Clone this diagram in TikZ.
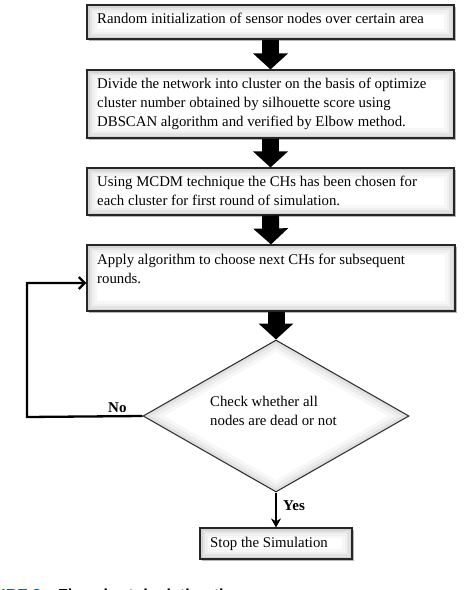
\documentclass[tikz,border=0pt]{standalone}
\usepackage{fontspec}
\setmainfont{Liberation Serif}
\newfontfamily\capfont{Liberation Sans}
\usetikzlibrary{arrows.meta,shapes.geometric,shadows}
\definecolor{capblue}{RGB}{0,105,165}
\newcommand{\bevelrect}[2]{%
  \fill[#2] ([shift={(#1,#1)}]path picture bounding box.south west) rectangle ([shift={(-#1,-#1)}]path picture bounding box.north east);}
\newcommand{\beveldiam}[2]{%
  \fill[#2] ([shift={(0pt,76pt-#1)}]path picture bounding box.center) -- ([shift={(133pt-1.75*#1,0pt)}]path picture bounding box.center) -- ([shift={(0pt,-76pt+#1)}]path picture bounding box.center) -- ([shift={(-133pt+1.75*#1,0pt)}]path picture bounding box.center) -- cycle;}
\begin{document}
\begin{tikzpicture}[x=1pt,y=-1pt,
  procbox/.style={draw=black!85, line width=1.1pt, fill=white, inner sep=0pt,
    drop shadow={shadow xshift=1.6pt, shadow yshift=-1.6pt, fill=black!40, opacity=0.7},
    path picture={\bevelrect{0pt}{black!17}\bevelrect{2.5pt}{black!11}\bevelrect{5pt}{black!6}\bevelrect{7.5pt}{black!3}\bevelrect{10pt}{white}}},
  decbox/.style={diamond, draw=black!85, line width=1pt, fill=white, inner sep=0pt, aspect=1.75,
    path picture={\beveldiam{0pt}{black!12}\beveldiam{4pt}{black!7}\beveldiam{8pt}{black!3}\beveldiam{12pt}{white}}},
  txt/.style={anchor=base west, align=left, inner sep=0pt, font=\fontsize{14.8}{19.3}\selectfont},
  lbl/.style={anchor=base west, inner sep=0pt, font=\fontsize{15}{18}\selectfont\bfseries},
  bigarrow/.style={line width=17pt, -{Triangle[width=34pt,length=16pt]}},
  noline/.style={line width=2.3pt, -{Straight Barb[length=6pt,width=12pt]}},
  yesline/.style={line width=2.4pt, -{Stealth[length=9pt,width=10pt]}}
]
\clip (0,0) rectangle (474,590);
\fill[white] (0,0) rectangle (474,590);

% boxes
\node[procbox, minimum width=367pt, minimum height=34pt] (b1) at (270.5,22) {};
\node[procbox, minimum width=367pt, minimum height=68pt] (b2) at (270.5,104) {};
\node[procbox, minimum width=367pt, minimum height=47pt] (b3) at (270.5,191.5) {};
\node[procbox, minimum width=368pt, minimum height=66pt] (b4) at (271,278) {};
\node[decbox, minimum width=266pt, minimum height=152pt] (dec) at (276,416) {};
\node[procbox, minimum width=152pt, minimum height=31pt] (stop) at (276,543.5) {};

% texts (base anchor = baseline of the last line)
\node[txt] (t1) at (97,23.3) {Random initialization of sensor nodes over certain area};
\node[txt] (t2) at (97,126.9) {Divide the network into cluster on the basis of optimize\\cluster number obtained by silhouette score using\\DBSCAN algorithm and verified by Elbow method.};
\node[txt] (t3) at (97,205.5) {Using MCDM technique the CHs has been chosen for\\each cluster for first round of simulation.};
\node[txt] (t4) at (97,283.8) {Apply algorithm to choose next CHs for subsequent\\rounds.};
\node[txt] (td) at (210,425.3) {Check whether all\\nodes are dead or not};
\node[txt] (ts) at (210,547) {Stop the Simulation};

% connectors
\draw[bigarrow] (b1.south) -- (b2.north);
\draw[bigarrow] (b2.south) -- (b3.north);
\draw[bigarrow] (b3.south) -- (b4.north);
\draw[bigarrow] (b4.south -| dec.north) -- (dec.north);
\draw[yesline] (dec.south) -- (stop.north);
\coordinate (corner) at (27,417);
\draw[noline] (dec.west) -- (corner) |- ([yshift=-5pt]b4.west);

\node[lbl] (no) at (108,412) {No};
\node[lbl] (yes) at (283,510) {Yes};

% caption (cut off at the bottom edge, as in the reference)
\node[anchor=base east, inner sep=0pt, font=\capfont\bfseries\fontsize{16}{18}\selectfont, text=capblue] (fig) at (46,600) {FIGURE 3.};
\node[anchor=base west, inner sep=0pt, font=\capfont\bfseries\fontsize{16}{18}\selectfont] (cap) at (58,600) {Flowchart depicting the};
\end{tikzpicture}
\end{document}
